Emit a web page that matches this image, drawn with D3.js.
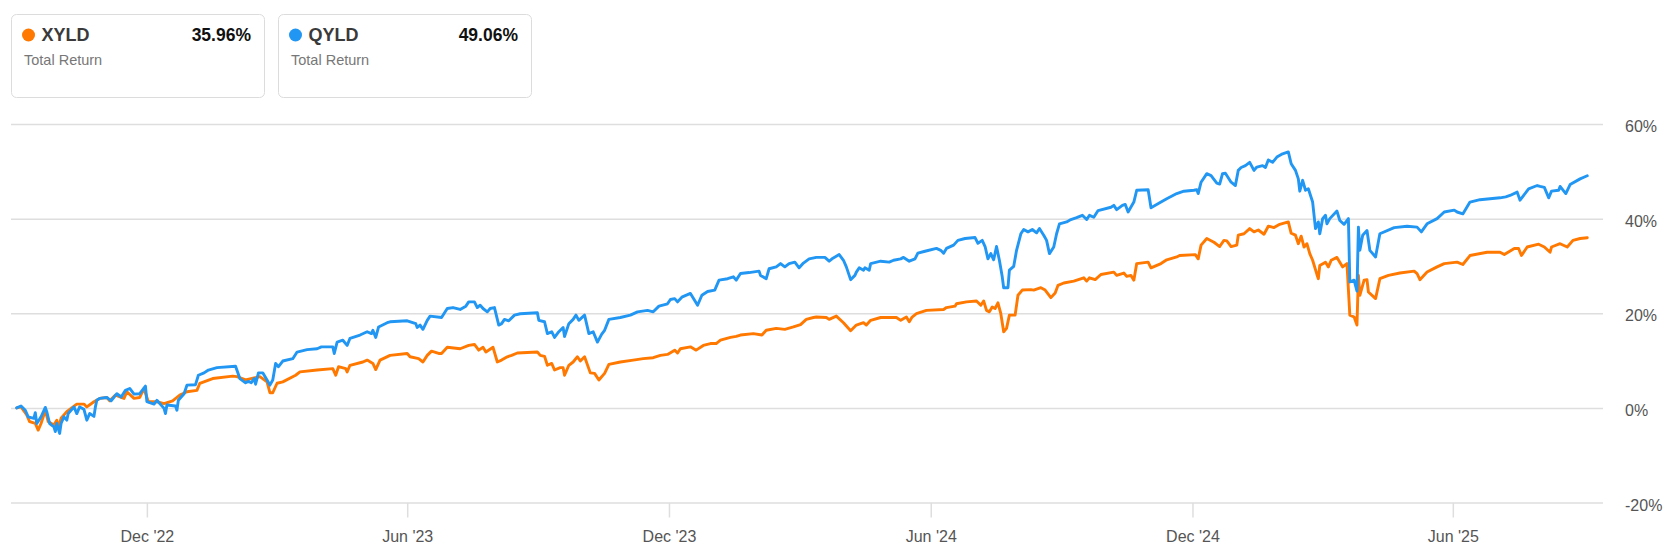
<!DOCTYPE html>
<html>
<head>
<meta charset="utf-8">
<script src="https://cdn.jsdelivr.net/npm/d3@7/dist/d3.min.js"></script>
<style>
  html, body { margin: 0; padding: 0; background: #fff; }
  svg { display: block; font-family: "Liberation Sans", Arial, sans-serif; }
</style>
</head>
<body>
<svg id="chart" width="1671" height="557"></svg>
<script>
// ---- Series names, colours, totals ----
const seriesNames = ["XYLD", "QYLD"];
const seriesColors = ["#ff7800", "#2196f3"];
const seriesTotals = ["35.96%", "49.06%"];
const legendSubtitle = "Total Return";

// ---- Axis ticks ----
const yTicks = [-20, 0, 20, 40, 60];
const xTickDates = ["2022-12-01", "2023-06-01", "2023-12-01", "2024-06-01", "2024-12-01", "2025-06-01"];

// ---- XYLD total return (%) ----
const xyldDates = ["2022-09-01","2022-09-04","2022-09-08","2022-09-10","2022-09-14","2022-09-16","2022-09-18","2022-09-21","2022-09-23","2022-09-27","2022-09-29","2022-09-30","2022-10-02","2022-10-06","2022-10-09","2022-10-13","2022-10-18","2022-10-20","2022-10-25","2022-10-29","2022-11-03","2022-11-05","2022-11-09","2022-11-15","2022-11-17","2022-11-22","2022-11-26","2022-11-29","2022-12-02","2022-12-08","2022-12-13","2022-12-19","2022-12-24","2022-12-29","2023-01-05","2023-01-07","2023-01-16","2023-01-30","2023-02-02","2023-02-08","2023-02-18","2023-02-23","2023-02-25","2023-02-27","2023-03-02","2023-03-06","2023-03-15","2023-03-18","2023-03-30","2023-04-10","2023-04-12","2023-04-14","2023-04-19","2023-04-20","2023-04-22","2023-05-01","2023-05-04","2023-05-08","2023-05-10","2023-05-13","2023-05-20","2023-06-01","2023-06-03","2023-06-09","2023-06-12","2023-06-15","2023-06-18","2023-06-23","2023-06-25","2023-06-29","2023-07-08","2023-07-14","2023-07-18","2023-07-21","2023-07-24","2023-07-26","2023-07-31","2023-08-03","2023-08-06","2023-08-10","2023-08-13","2023-08-17","2023-08-31","2023-09-02","2023-09-05","2023-09-07","2023-09-10","2023-09-12","2023-09-16","2023-09-18","2023-09-19","2023-09-22","2023-09-25","2023-09-28","2023-09-30","2023-10-03","2023-10-07","2023-10-10","2023-10-13","2023-10-17","2023-10-20","2023-10-28","2023-11-06","2023-11-13","2023-11-20","2023-11-25","2023-11-30","2023-12-05","2023-12-07","2023-12-09","2023-12-16","2023-12-20","2023-12-25","2023-12-30","2024-01-03","2024-01-06","2024-01-13","2024-01-17","2024-01-20","2024-01-29","2024-02-04","2024-02-07","2024-02-14","2024-02-20","2024-02-26","2024-03-02","2024-03-06","2024-03-11","2024-03-13","2024-03-20","2024-03-22","2024-03-27","2024-04-01","2024-04-06","2024-04-10","2024-04-15","2024-04-17","2024-04-20","2024-04-27","2024-05-08","2024-05-11","2024-05-15","2024-05-17","2024-05-19","2024-05-22","2024-05-29","2024-06-10","2024-06-12","2024-06-18","2024-06-19","2024-06-26","2024-07-03","2024-07-06","2024-07-08","2024-07-10","2024-07-12","2024-07-14","2024-07-16","2024-07-18","2024-07-20","2024-07-22","2024-07-24","2024-07-26","2024-07-30","2024-08-01","2024-08-04","2024-08-10","2024-08-12","2024-08-17","2024-08-20","2024-08-24","2024-08-27","2024-08-29","2024-09-02","2024-09-09","2024-09-16","2024-09-18","2024-09-20","2024-09-24","2024-09-28","2024-10-07","2024-10-09","2024-10-14","2024-10-16","2024-10-19","2024-10-21","2024-10-23","2024-10-31","2024-11-02","2024-11-09","2024-11-13","2024-11-20","2024-11-22","2024-12-03","2024-12-05","2024-12-07","2024-12-11","2024-12-16","2024-12-20","2024-12-23","2024-12-25","2024-12-28","2025-01-01","2025-01-02","2025-01-06","2025-01-10","2025-01-13","2025-01-16","2025-01-20","2025-01-23","2025-01-27","2025-01-31","2025-02-06","2025-02-08","2025-02-11","2025-02-13","2025-02-15","2025-02-17","2025-02-19","2025-02-21","2025-02-23","2025-02-26","2025-02-27","2025-02-28","2025-03-04","2025-03-06","2025-03-08","2025-03-12","2025-03-16","2025-03-19","2025-03-21","2025-03-24","2025-03-26","2025-03-27","2025-03-28","2025-03-31","2025-04-02","2025-04-03","2025-04-08","2025-04-11","2025-04-17","2025-04-25","2025-05-05","2025-05-07","2025-05-09","2025-05-14","2025-05-21","2025-05-26","2025-06-04","2025-06-08","2025-06-13","2025-06-25","2025-07-04","2025-07-07","2025-07-14","2025-07-17","2025-07-19","2025-07-23","2025-07-31","2025-08-04","2025-08-08","2025-08-09","2025-08-15","2025-08-20","2025-08-24","2025-08-29","2025-09-03"];
const xyldValues = [0,0.2,-1.5,-2.9,-3.3,-4.7,-3.3,-0.5,-2.9,-3.6,-2.6,-4.3,-2.2,-0.8,-0.1,0.8,0.8,0.2,1.3,2.0,2.2,1.5,2.7,2.0,3.4,2.0,2.2,4.1,1.3,1.3,0.9,1.5,2.7,3.4,3.7,5.2,6.2,6.7,6.6,5.9,6.6,5.5,3.2,3.2,5.2,5.5,6.9,7.6,8.0,8.3,6.9,8.7,8.3,7.6,9.0,9.7,10.1,9.4,8.1,10.1,11.1,11.5,10.8,10.4,9.7,11.1,12.0,11.5,11.5,12.8,12.5,13.2,13.4,12.2,12.8,11.8,12.8,9.7,10.1,10.8,11.1,11.6,11.8,11.1,10.9,9.0,9.4,8.0,8.5,8.5,6.9,9.0,9.7,10.8,9.9,10.8,7.4,7.3,5.9,7.3,9.2,9.7,10.1,10.4,10.6,11.1,11.3,12.2,11.6,12.5,12.9,12.2,13.2,13.6,13.6,14.3,14.9,15.1,15.4,15.7,15.4,16.4,16.8,16.6,17.1,17.6,18.7,19.1,19.2,19.1,18.7,19.4,18.0,16.3,17.5,18.0,17.5,18.5,19.1,19.1,18.5,19.2,18.2,19.2,19.9,20.6,20.8,21.2,21.5,22.0,22.4,22.6,21.7,22.6,20.6,20.3,21.3,21.0,22.2,19.9,16.1,16.8,19.6,19.6,23.8,24.9,25.0,24.9,25.4,24.9,23.3,24.3,25.9,26.4,26.8,27.5,26.8,27.5,27.1,28.2,28.7,28.0,28.5,27.8,28.0,27.0,30.5,30.8,29.6,30.5,31.3,31.9,32.2,32.4,31.5,34.4,35.8,35.0,34.1,35.4,35.3,34.1,34.4,36.5,36.8,37.9,37.2,37.6,36.7,38.4,38.1,38.8,39.3,36.9,36.5,34.7,36.3,34.0,34.7,32.6,31.2,28.2,27.3,30.1,30.8,29.8,31.2,31.8,29.8,30.5,19.6,19.2,17.5,28.0,23.8,27.0,27.1,24.5,23.1,27.3,28.0,28.5,28.9,28.4,27.1,28.7,29.8,30.5,30.8,30.3,32.2,32.9,32.9,32.4,33.7,33.7,32.2,34.0,34.6,34.0,32.9,34.0,34.7,34.0,35.4,35.8,35.96];

// ---- QYLD total return (%) ----
const qyldDates = ["2022-09-01","2022-09-04","2022-09-07","2022-09-09","2022-09-13","2022-09-14","2022-09-15","2022-09-18","2022-09-21","2022-09-22","2022-09-24","2022-09-27","2022-09-28","2022-09-29","2022-10-01","2022-10-02","2022-10-04","2022-10-06","2022-10-07","2022-10-09","2022-10-11","2022-10-13","2022-10-15","2022-10-18","2022-10-20","2022-10-22","2022-10-25","2022-10-26","2022-10-27","2022-10-29","2022-11-03","2022-11-06","2022-11-10","2022-11-13","2022-11-16","2022-11-19","2022-11-22","2022-11-26","2022-11-30","2022-12-01","2022-12-06","2022-12-08","2022-12-13","2022-12-14","2022-12-15","2022-12-21","2022-12-22","2022-12-23","2022-12-27","2022-12-29","2023-01-04","2023-01-06","2023-01-10","2023-01-13","2023-01-19","2023-02-01","2023-02-04","2023-02-08","2023-02-10","2023-02-12","2023-02-14","2023-02-15","2023-02-17","2023-02-20","2023-02-23","2023-02-25","2023-02-27","2023-03-01","2023-03-03","2023-03-06","2023-03-13","2023-03-16","2023-03-23","2023-03-30","2023-04-02","2023-04-10","2023-04-11","2023-04-13","2023-04-17","2023-04-20","2023-04-22","2023-04-29","2023-05-04","2023-05-07","2023-05-08","2023-05-10","2023-05-12","2023-05-18","2023-05-20","2023-06-01","2023-06-07","2023-06-08","2023-06-10","2023-06-12","2023-06-15","2023-06-17","2023-06-25","2023-06-29","2023-07-03","2023-07-08","2023-07-12","2023-07-14","2023-07-18","2023-07-20","2023-07-22","2023-07-24","2023-07-27","2023-07-29","2023-08-01","2023-08-04","2023-08-06","2023-08-08","2023-08-11","2023-08-15","2023-08-19","2023-08-31","2023-09-01","2023-09-05","2023-09-07","2023-09-10","2023-09-12","2023-09-15","2023-09-18","2023-09-19","2023-09-22","2023-09-25","2023-09-27","2023-09-29","2023-10-03","2023-10-06","2023-10-09","2023-10-12","2023-10-15","2023-10-17","2023-10-20","2023-10-28","2023-11-04","2023-11-09","2023-11-16","2023-11-20","2023-11-24","2023-11-30","2023-12-02","2023-12-05","2023-12-07","2023-12-10","2023-12-16","2023-12-19","2023-12-21","2023-12-24","2023-12-28","2024-01-02","2024-01-05","2024-01-11","2024-01-15","2024-01-17","2024-01-20","2024-01-26","2024-02-02","2024-02-03","2024-02-07","2024-02-09","2024-02-14","2024-02-17","2024-02-20","2024-02-23","2024-02-27","2024-03-01","2024-03-04","2024-03-08","2024-03-13","2024-03-19","2024-03-22","2024-03-24","2024-03-29","2024-04-01","2024-04-03","2024-04-06","2024-04-09","2024-04-10","2024-04-12","2024-04-15","2024-04-16","2024-04-19","2024-04-20","2024-04-27","2024-05-03","2024-05-06","2024-05-11","2024-05-13","2024-05-17","2024-05-21","2024-05-23","2024-05-28","2024-06-05","2024-06-08","2024-06-10","2024-06-12","2024-06-17","2024-06-20","2024-06-25","2024-07-02","2024-07-04","2024-07-07","2024-07-09","2024-07-11","2024-07-13","2024-07-15","2024-07-17","2024-07-19","2024-07-21","2024-07-22","2024-07-25","2024-07-26","2024-07-29","2024-07-31","2024-08-03","2024-08-05","2024-08-08","2024-08-11","2024-08-14","2024-08-16","2024-08-19","2024-08-21","2024-08-23","2024-08-26","2024-08-28","2024-08-30","2024-09-04","2024-09-07","2024-09-11","2024-09-15","2024-09-18","2024-09-20","2024-09-23","2024-09-26","2024-10-05","2024-10-07","2024-10-09","2024-10-13","2024-10-15","2024-10-17","2024-10-21","2024-10-23","2024-10-31","2024-11-02","2024-11-09","2024-11-13","2024-11-20","2024-11-25","2024-12-02","2024-12-04","2024-12-05","2024-12-07","2024-12-11","2024-12-14","2024-12-18","2024-12-20","2024-12-22","2024-12-24","2024-12-28","2024-12-31","2025-01-02","2025-01-04","2025-01-07","2025-01-10","2025-01-13","2025-01-15","2025-01-19","2025-01-21","2025-01-23","2025-01-26","2025-01-29","2025-02-02","2025-02-06","2025-02-08","2025-02-11","2025-02-13","2025-02-14","2025-02-16","2025-02-18","2025-02-20","2025-02-23","2025-02-25","2025-02-27","2025-02-28","2025-03-02","2025-03-04","2025-03-05","2025-03-07","2025-03-12","2025-03-14","2025-03-17","2025-03-20","2025-03-21","2025-03-24","2025-03-26","2025-03-27","2025-03-28","2025-03-30","2025-04-02","2025-04-04","2025-04-08","2025-04-11","2025-04-21","2025-04-30","2025-05-07","2025-05-10","2025-05-14","2025-05-21","2025-05-26","2025-06-02","2025-06-04","2025-06-08","2025-06-13","2025-06-20","2025-07-04","2025-07-08","2025-07-11","2025-07-16","2025-07-18","2025-07-24","2025-07-30","2025-08-01","2025-08-04","2025-08-07","2025-08-09","2025-08-14","2025-08-15","2025-08-19","2025-08-22","2025-08-29","2025-09-01","2025-09-03"];
const qyldValues = [0,0.4,-0.5,-1.9,-2.2,-1.0,-3.3,-1.9,0.1,-0.8,-3.3,-4.0,-5.0,-3.3,-5.4,-3.3,-1.9,-2.6,-1.2,-0.5,0.2,-1.2,0.2,-0.3,-2.6,-1.2,-1.8,0.2,1.6,2.0,2.2,1.5,3.0,2.3,3.7,4.1,2.9,3.0,4.6,1.3,0.8,1.6,-0.1,-1.2,0.6,0.4,-0.5,1.6,3.0,4.8,4.9,6.9,7.4,8.0,8.5,8.8,6.2,5.3,5.6,5.3,6.2,5.0,7.4,7.4,5.9,4.8,5.9,9.4,8.7,9.9,10.4,11.8,12.3,12.5,12.9,12.9,11.5,13.9,14.3,13.2,14.7,15.4,16.1,15.7,16.4,14.9,17.1,18.0,18.2,18.4,17.8,17.0,17.5,16.6,18.5,19.4,19.1,21.0,21.2,20.8,21.5,22.4,22.4,21.2,21.7,21.0,20.3,21.0,21.2,17.5,17.8,18.7,18.4,19.6,19.9,20.1,18.5,18.2,15.7,16.1,14.9,16.1,17.0,15.1,17.8,18.7,19.6,18.5,19.6,15.7,16.1,13.9,15.6,16.4,18.7,19.1,19.6,20.3,20.6,20.3,21.5,22.0,22.9,23.1,22.4,23.4,24.2,22.7,21.7,23.8,24.6,24.9,27.0,27.3,27.7,27.0,28.4,28.6,28.9,28.0,27.3,29.4,29.8,30.5,29.8,30.5,30.8,29.6,30.6,31.5,31.8,31.8,31.0,31.5,32.4,31.2,29.8,27.1,28.0,28.7,29.6,29.1,29.6,29.1,30.5,31.0,30.8,31.2,31.5,31.8,31.0,31.5,32.7,33.1,33.7,33.3,32.7,33.7,34.4,35.4,35.8,36.0,34.8,35.4,34.1,31.5,32.6,31.3,34.1,31.2,27.7,25.4,25.4,29.1,29.9,33.3,36.8,37.7,37.2,37.7,37.0,37.9,36.5,35.4,32.6,34.0,36.8,38.9,39.3,39.8,40.2,40.7,39.8,40.7,40.3,41.7,42.4,42.8,41.9,42.8,43.0,41.4,43.5,46.0,46.1,42.3,43.5,44.2,45.3,45.8,46.0,46.1,45.3,47.7,49.5,49.1,47.5,47.3,49.5,49.6,47.7,47.0,50.2,50.8,51.2,51.9,50.2,50.9,51.2,50.8,52.4,51.9,53.0,53.7,54.1,51.6,50.2,48.4,45.8,48.1,46.0,46.3,43.5,37.9,39.3,36.8,40.0,40.7,38.9,40.0,41.6,39.6,38.8,40.0,26.6,27.0,24.7,38.2,33.3,36.5,37.5,33.3,31.9,36.8,38.1,38.4,38.2,37.2,38.9,40.0,41.4,41.8,41.4,41.0,43.5,44.0,44.4,44.6,44.9,45.6,43.9,46.3,47.0,46.8,46.6,44.4,45.8,46.0,46.8,45.3,47.2,48.4,48.8,49.06];

// ---- Build ----
const parse = d3.timeParse("%Y-%m-%d");
const series = [
  { name: seriesNames[0], color: seriesColors[0], points: xyldDates.map((d, i) => ({ date: parse(d), value: xyldValues[i] })) },
  { name: seriesNames[1], color: seriesColors[1], points: qyldDates.map((d, i) => ({ date: parse(d), value: qyldValues[i] })) }
];

const svg = d3.select("#chart");
const plotLeft = 11, plotRight = 1603, plotTop = 124, plotBottom = 502.5;

const x = d3.scaleTime()
  .domain([parse("2022-08-28"), parse("2025-09-14")])
  .range([plotLeft, plotRight]);
const y = d3.scaleLinear()
  .domain([-20, 60])
  .range([plotBottom, plotTop]);

// Y gridlines + labels (right side)
const yAxis = d3.axisRight(y)
  .tickValues(yTicks)
  .tickSize(plotRight - plotLeft)
  .tickPadding(22)
  .tickFormat(d => d + "%");
const gy = svg.append("g")
  .attr("transform", `translate(${plotLeft},0)`)
  .call(yAxis);
gy.select(".domain").remove();
gy.selectAll(".tick line").attr("stroke", "#dedede").attr("stroke-width", 1.5);
gy.selectAll(".tick text")
  .attr("fill", "#555")
  .attr("font-size", "16px")
  .attr("font-family", "'Liberation Sans', Arial, sans-serif")
  .attr("dy", "0.47em");

// X axis ticks + labels
const xAxis = d3.axisBottom(x)
  .tickValues(xTickDates.map(parse))
  .tickSize(14.5)
  .tickPadding(13.5)
  .tickFormat(d3.timeFormat("%b '%y"));
const gx = svg.append("g")
  .attr("transform", `translate(0,${plotBottom + 0.5})`)
  .call(xAxis);
gx.select(".domain").remove();
gx.selectAll(".tick line").attr("stroke", "#dedede").attr("stroke-width", 1.5);
gx.selectAll(".tick text")
  .attr("fill", "#555")
  .attr("font-size", "16px")
  .attr("font-family", "'Liberation Sans', Arial, sans-serif");

// Lines
const line = d3.line()
  .x(d => x(d.date))
  .y(d => y(d.value))
  .curve(d3.curveLinear);
svg.append("g").selectAll("path.series")
  .data(series)
  .join("path")
  .attr("class", "series")
  .attr("fill", "none")
  .attr("stroke", d => d.color)
  .attr("stroke-width", 2.9)
  .attr("stroke-linejoin", "round")
  .attr("stroke-linecap", "round")
  .attr("d", d => line(d.points));

// Legend cards
const cardW = 253, cardH = 83, cardGap = 14, cardX0 = 11.5, cardY0 = 14.5;
const cards = svg.append("g").selectAll("g.card")
  .data(series.map((s, i) => ({ ...s, total: seriesTotals[i], i })))
  .join("g")
  .attr("class", "card")
  .attr("transform", d => `translate(${cardX0 + d.i * (cardW + cardGap)},${cardY0})`);
cards.append("rect")
  .attr("width", cardW).attr("height", cardH)
  .attr("rx", 5).attr("ry", 5)
  .attr("fill", "#fff").attr("stroke", "#dcdcdc").attr("stroke-width", 1);
cards.append("circle")
  .attr("cx", 17).attr("cy", 20.5).attr("r", 6.5)
  .attr("fill", d => d.color);
cards.append("text")
  .attr("x", 30).attr("y", 26)
  .attr("font-size", "18px").attr("font-weight", "bold")
  .attr("fill", "#3a3a3a")
  .text(d => d.name);
cards.append("text")
  .attr("x", cardW - 13.5).attr("y", 26)
  .attr("text-anchor", "end")
  .attr("font-size", "17.5px").attr("font-weight", "bold")
  .attr("fill", "#111")
  .text(d => d.total);
cards.append("text")
  .attr("x", 12.5).attr("y", 50.5)
  .attr("font-size", "14.5px")
  .attr("fill", "#777")
  .text(legendSubtitle);
</script>
</body>
</html>
